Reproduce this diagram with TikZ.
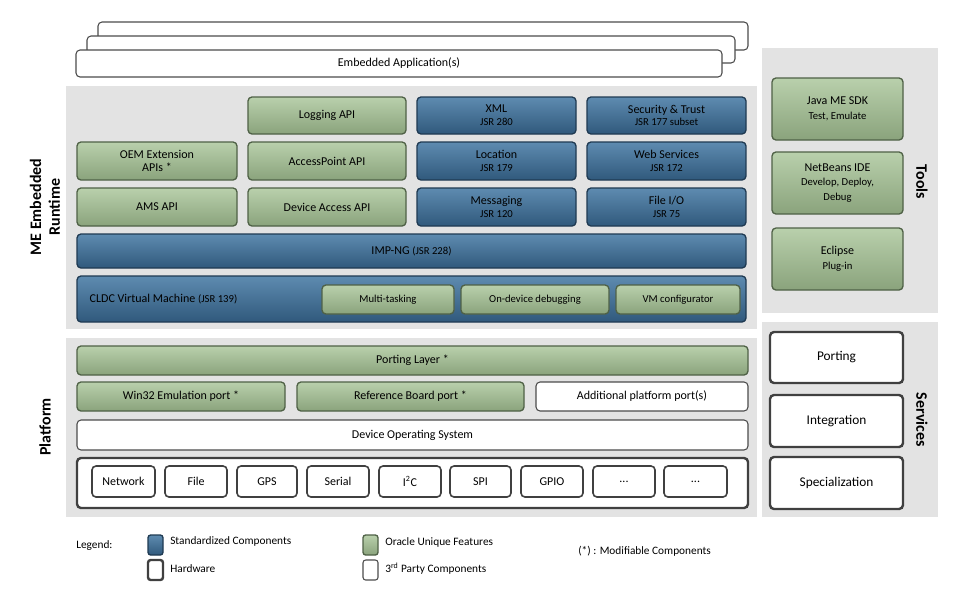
\documentclass[tikz,border=0pt]{standalone}
\usepackage{fontspec}
\setmainfont{Carlito}
\begin{document}
\newcommand\bx[7]{\pgfmathsetmacro\bw{(#4-#2)*0.75}\pgfmathsetmacro\bh{(#5-#3)*0.75}\node[#1,anchor=north west,minimum width=\bw pt,minimum height=\bh pt] (#6) at (#2,#3) {#7};}
\begin{tikzpicture}[x=0.75pt,y=-0.75pt,
 base/.style={inner sep=0pt,outer sep=0pt,align=center,font=\fontsize{9}{9.5}\selectfont,rounded corners=3pt},
 blue/.style={base,top color=blue1,bottom color=blue2,draw=blueb,line width=1pt},
 green/.style={base,top color=green1,bottom color=green2,draw=greenb,line width=1pt},
 white/.style={base,fill=white,draw=gray!60!black,line width=0.8pt},
 hw/.style={base,fill=white,draw=black!75,line width=1.8pt},
 panel/.style={inner sep=0pt,outer sep=0pt,fill=panelgray,draw=none},
 side/.style={font=\bfseries\fontsize{12}{14}\selectfont,align=center}]
\definecolor{blue1}{HTML}{5E8BB0}\definecolor{blue2}{HTML}{30597C}\definecolor{blueb}{HTML}{1F3A52}
\definecolor{green1}{HTML}{B9D0AC}\definecolor{green2}{HTML}{8AA37C}\definecolor{greenb}{HTML}{4F6146}
\definecolor{panelgray}{HTML}{E3E3E3}
\useasboundingbox (0,0) rectangle (962,597);
% panels
\bx{panel}{66}{86}{757}{329}{pme}{}
\bx{panel}{66}{338}{757}{517}{ppl}{}
\bx{panel}{762}{48}{938}{313}{ptools}{}
\bx{panel}{762}{322}{938}{517}{psrv}{}
% embedded apps
\bx{white}{98}{22}{748}{50}{app3}{}
\bx{white}{87}{36}{735}{63}{app2}{}
\bx{white}{76}{50}{722}{77}{app1}{Embedded Application(s)}
% ME runtime
\bx{green}{248}{97}{406}{134}{log}{Logging API}
\bx{blue}{417}{97}{576}{134}{xml}{XML\\{\fontsize{8}{9}\selectfont JSR 280}}
\bx{blue}{587}{97}{746}{134}{sec}{Security \& Trust\\{\fontsize{8}{9}\selectfont JSR 177 subset}}
\bx{green}{77}{142}{237}{180}{oem}{OEM Extension\\APIs *}
\bx{green}{248}{142}{406}{180}{ap}{AccessPoint API}
\bx{blue}{417}{142}{576}{180}{loc}{Location\\{\fontsize{8}{9}\selectfont JSR 179}}
\bx{blue}{587}{142}{746}{180}{ws}{Web Services\\{\fontsize{8}{9}\selectfont JSR 172}}
\bx{green}{77}{188}{237}{226}{ams}{AMS API}
\bx{green}{248}{188}{406}{226}{da}{Device Access API}
\bx{blue}{417}{188}{576}{226}{msg}{Messaging\\{\fontsize{8}{9}\selectfont JSR 120}}
\bx{blue}{587}{188}{746}{226}{fio}{File I/O\\{\fontsize{8}{9}\selectfont JSR 75}}
\bx{blue}{77}{234}{746}{268}{imp}{IMP-NG {\fontsize{8}{9}\selectfont(JSR 228)}}
\bx{blue}{77}{276}{746}{322}{cldc}{}
\node[font=\fontsize{9}{10}\selectfont,anchor=west] (cldct) at (85,299) {CLDC Virtual Machine {\fontsize{8}{9}\selectfont(JSR 139)}};
\bx{green,font=\fontsize{8}{9}\selectfont}{322}{285}{454}{314}{mt}{Multi-tasking}
\bx{green,font=\fontsize{8}{9}\selectfont}{461}{285}{609}{314}{od}{On-device debugging}
\bx{green,font=\fontsize{8}{9}\selectfont}{616}{285}{740}{314}{vm}{VM configurator}
\node[side,rotate=90] (lme) at (45,207) {ME Embedded\\Runtime};
% platform
\bx{green}{77}{346}{748}{375}{pl}{Porting Layer *}
\bx{green}{77}{382}{285}{411}{w32}{Win32 Emulation port *}
\bx{green}{297}{382}{524}{411}{rb}{Reference Board port *}
\bx{white}{536}{382}{748}{411}{add}{Additional platform port(s)}
\bx{white}{77}{420}{748}{450}{os}{Device Operating System}
\bx{hw}{77}{458}{748}{508}{hwbar}{}
\bx{white,draw=black!75,line width=1.2pt}{92}{466}{155}{497}{h1}{Network}
\bx{white,draw=black!75,line width=1.2pt}{165}{466}{227}{497}{h2}{File}
\bx{white,draw=black!75,line width=1.2pt}{237}{466}{297}{497}{h3}{GPS}
\bx{white,draw=black!75,line width=1.2pt}{307}{466}{369}{497}{h4}{Serial}
\bx{white,draw=black!75,line width=1.2pt}{379}{466}{441}{497}{h5}{I\textsuperscript{2}C}
\bx{white,draw=black!75,line width=1.2pt}{450}{466}{511}{497}{h6}{SPI}
\bx{white,draw=black!75,line width=1.2pt}{521}{466}{583}{497}{h7}{GPIO}
\bx{white,draw=black!75,line width=1.2pt}{593}{466}{655}{497}{h8}{...}
\bx{white,draw=black!75,line width=1.2pt}{664}{466}{727}{497}{h9}{...}
\node[side,rotate=90] (lpl) at (45,427) {Platform};
% tools
\bx{green,font=\fontsize{9}{11}\selectfont}{772}{78}{903}{140}{sdk}{Java ME SDK\\{\fontsize{8}{10}\selectfont Test, Emulate}}
\bx{green,font=\fontsize{9}{11}\selectfont}{772}{152}{903}{214}{nb}{NetBeans IDE\\{\fontsize{8}{10}\selectfont Develop, Deploy,}\\{\fontsize{8}{10}\selectfont Debug}}
\bx{green,font=\fontsize{9}{11}\selectfont}{772}{228}{903}{290}{ecl}{Eclipse\\{\fontsize{8}{10}\selectfont Plug-in}}
\node[side,rotate=-90] (ltools) at (922,182) {Tools};
% services
\bx{hw,font=\fontsize{10}{11}\selectfont}{770}{332}{903}{383}{s1}{Porting}
\bx{hw,font=\fontsize{10}{11}\selectfont}{770}{395}{903}{447}{s2}{Integration}
\bx{hw,font=\fontsize{10}{11}\selectfont}{770}{457}{903}{509}{s3}{Specialization}
\node[side,rotate=-90] (lsrv) at (922,420) {Services};
% legend
\tikzset{lg/.style={font=\fontsize{8.5}{9}\selectfont,anchor=west,inner sep=0pt}}
\node[lg] (lgl) at (76,546) {Legend:};
\bx{blue,rounded corners=2pt}{148}{535}{163}{555}{lb}{}
\node[lg] (lbt) at (170,541) {Standardized Components};
\bx{hw,rounded corners=2pt}{148}{560}{163}{580}{lh}{}
\node[lg] (lht) at (170,569) {Hardware};
\bx{green,rounded corners=2pt}{363}{535}{378}{555}{lgr}{}
\node[lg] (lgt) at (385,542) {Oracle Unique Features};
\bx{white,rounded corners=2pt}{363}{560}{378}{580}{lw}{}
\node[lg] (lwt) at (385,569) {3\textsuperscript{rd} Party Components};
\node[lg] (lmod) at (578,551) {(*) : Modifiable Components};
\end{tikzpicture}
\end{document}
